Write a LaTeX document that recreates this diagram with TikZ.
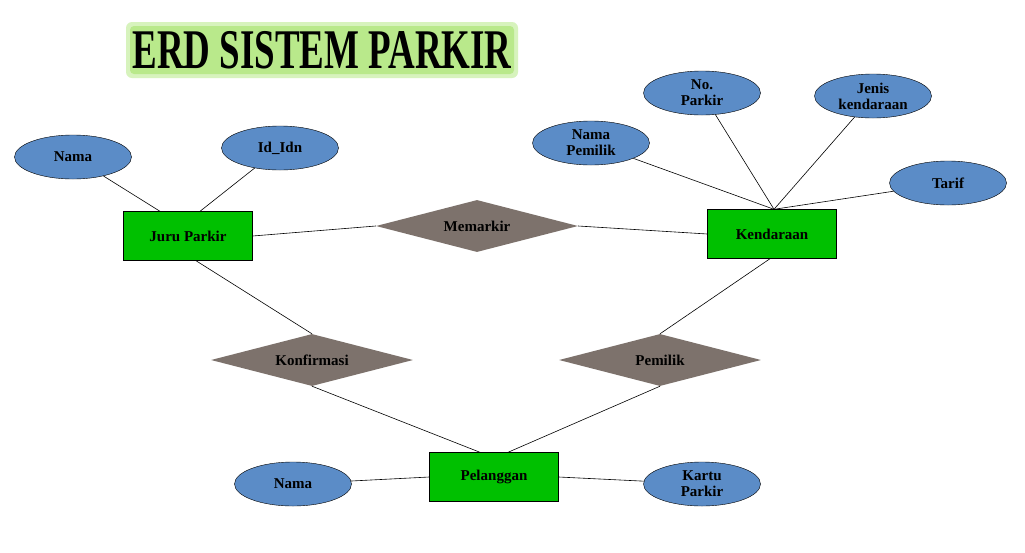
\documentclass[tikz,border=0pt]{standalone}
\usepackage{fontspec}
\setmainfont{Liberation Serif}
\usetikzlibrary{shapes.geometric,calc}
\definecolor{ent}{HTML}{00C000}
\definecolor{rel}{HTML}{7D726C}
\definecolor{att}{HTML}{5B8CC7}
\definecolor{glow}{HTML}{9BE05A}
\begin{document}
\begin{tikzpicture}[x=1pt,y=-1pt,
  every node/.style={font=\fontsize{15}{16}\selectfont\bfseries, align=center, inner sep=0pt},
  ent/.style={draw=black, fill=ent, minimum width=129, minimum height=49},
  rel/.style={diamond, fill=rel, aspect=3.9, minimum width=202, minimum height=52},
  att/.style={ellipse, draw=black, fill=att, minimum width=117, minimum height=44},
  ln/.style={draw=black, line width=0.6pt}]
\useasboundingbox (0,0) rectangle (1025,552);
\fill[white] (0,0) rectangle (1025,552);
% title
\fill[glow!40, rounded corners=6] (126,22) rectangle (518,78);
\fill[glow!70, rounded corners=4] (130,26) rectangle (514,74);
\node[text=black, font=\fontsize{56}{56}\selectfont\bfseries, xscale=0.66] (title) at (322,50) {ERD SISTEM PARKIR};
% entities
\node[ent] (jp) at (188,236) {Juru Parkir};
\node[ent] (kd) at (772,234) {Kendaraan};
\node[ent] (pl) at (494,477) {Pelanggan};
% relations
\node[rel] (mm) at (477,226) {Memarkir};
\node[rel] (kf) at (312,360) {Konfirmasi};
\node[rel] (pm) at (660,360) {Pemilik};
% attributes
\node[att] (a1) at (73,157) {Nama};
\node[att] (a2) at (280,148) {Id\_Idn};
\node[att] (a3) at (591,143) {Nama\\Pemilik};
\node[att] (a4) at (702,93) {No.\\Parkir};
\node[att] (a5) at (873,96) {Jenis\\kendaraan};
\node[att] (a6) at (948,183) {Tarif};
\node[att] (a7) at (293,484) {Nama};
\node[att] (a8) at (702,484) {Kartu\\Parkir};
% connectors
\draw[ln] (a1) -- ($(jp.north)+(-28,0)$);
\draw[ln] (a2) -- ($(jp.north)+(12,0)$);
\draw[ln] (jp.east) -- (mm.west);
\draw[ln] (mm.east) -- (kd.west);
\draw[ln] ($(jp.south)+(8,0)$) -- (kf.north);
\draw[ln] (kf.south) -- ($(pl.north)+(-14,0)$);
\draw[ln] (pm.south) -- ($(pl.north)+(14,0)$);
\draw[ln] ($(kd.south)+(-2,0)$) -- (pm.north);
\coordinate (kt) at ($(kd.north)+(2,0)$);
\draw[ln] (a3) -- (kt);
\draw[ln] (a4) -- (kt);
\draw[ln] (a5) -- (kt);
\draw[ln] (a6) -- (kt);
\draw[ln] (a7) -- (pl.west);
\draw[ln] (pl.east) -- (a8);
\end{tikzpicture}
\end{document}
